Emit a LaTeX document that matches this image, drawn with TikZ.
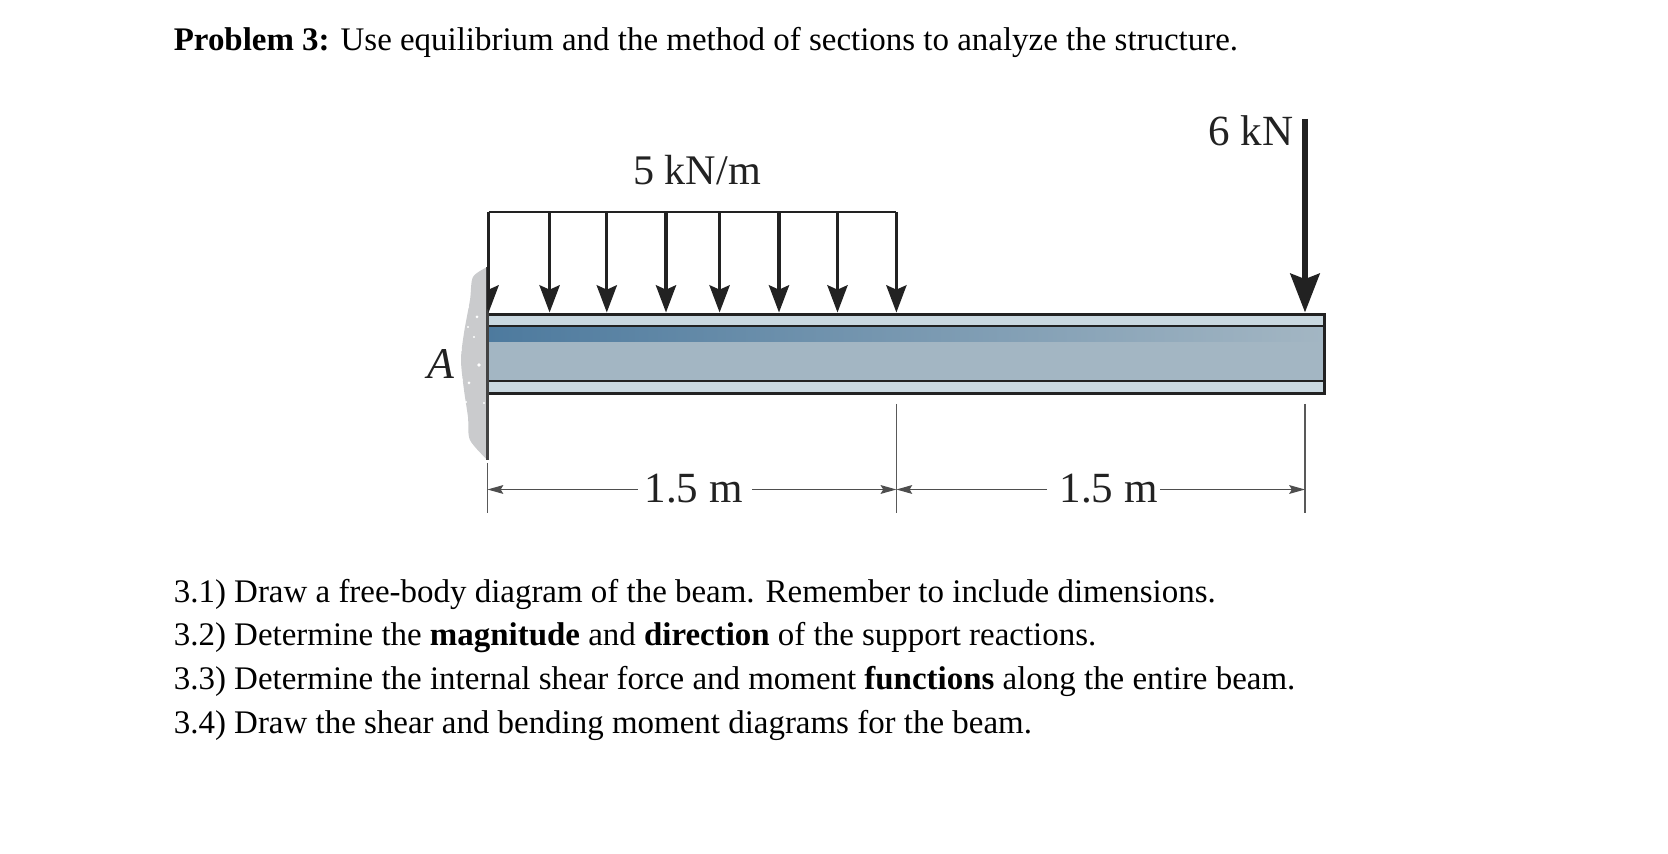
\documentclass[tikz,border=0pt]{standalone}
\usepackage{fontspec}
\setmainfont{Liberation Serif}
\usetikzlibrary{arrows.meta}
\definecolor{flange}{HTML}{C9D8E0}
\definecolor{web}{HTML}{A3B6C3}
\definecolor{webdark}{HTML}{4D7A9E}
\definecolor{ink}{HTML}{222222}
\definecolor{wallgray}{HTML}{CACBCD}
\tikzset{
  txt/.style={inner sep=0pt,anchor=base west,font=\fontsize{18.75}{22}\selectfont},
  figtxt/.style={inner sep=0pt,anchor=base,text=ink,font=\fontsize{24.5}{28}\selectfont},
  loadarrow/.style={ink,line width=1.8pt,-{Stealth[length=15.5pt,width=11.5pt,inset=2.5pt]}},
  bigarrow/.style={ink,line width=3.7pt,-{Stealth[length=22pt,width=16.5pt,inset=3pt]}},
  dimarrow/.style={ink!80,line width=0.7pt,-{Stealth[length=9pt,width=5pt,inset=1.5pt]}},
  extline/.style={ink!75,line width=0.7pt},
  beamline/.style={ink,line width=1.4pt},
  speck/.style={white}
}
\begin{document}
\begin{tikzpicture}[x=0.02cm,y=-0.02cm]
        \useasboundingbox (0,0) rectangle (1668,854);
        \fill[white] (0,0) rectangle (1668,854);
        \node[txt](title) at (173.5,51) {\textbf{Problem 3:} Use equilibrium and the method of sections to analyze the structure.};
        \node[txt](q1) at (173.5,602.5) {3.1) Draw a free-body diagram of the beam. Remember to include dimensions.};
        \node[txt](q2) at (173.5,645.5) {3.2) Determine the \textbf{magnitude} and \textbf{direction} of the support reactions.};
        \node[txt](q3) at (173.5,690) {3.3) Determine the internal shear force and moment \textbf{functions} along the entire beam.};
        \node[txt](q4) at (173.5,733.5) {3.4) Draw the shear and bending moment diagrams for the beam.};

        \fill[wallgray] plot[smooth] coordinates {(487.5,267) (473,277) (470,300) (464,333) (461,360) (464,390) (468,417) (470,440) (487.5,460)} -- cycle;
        \fill[speck] (468,307) circle (1.2);
        \fill[speck] (477,317) circle (1.5);
        \fill[speck] (468,327) circle (1.2);
        \fill[speck] (474,337) circle (1.2);
        \fill[speck] (461,350) circle (1.2);
        \fill[speck] (479,365) circle (1.8);
        \fill[speck] (469,383) circle (1.5);
        \fill[speck] (462,380) circle (1.2);
        \fill[speck] (484,403) circle (1.2);
        \fill[speck] (466,402) circle (1.2);

        \fill[flange] (487.5,314.5) rectangle (1324.5,393.5);
        \fill[web] (487.5,326) rectangle (1324.5,381);
        \shade[left color=webdark,right color=web] (487.5,326) rectangle (1324.5,342);
        \draw[beamline] (487.5,314.5) rectangle (1324.5,393.5);
        \draw[beamline] (487.5,326) -- (1324.5,326);
        \draw[beamline] (487.5,381) -- (1324.5,381);
        \draw[ink!85,line width=1.4pt] (487.5,267) -- (487.5,460);

        \coordinate (t0) at (488.6,212);
        \coordinate (t1) at (549.6,212);
        \coordinate (t2) at (606.8,212);
        \coordinate (t3) at (666,212);
        \coordinate (t4) at (719.6,212);
        \coordinate (t5) at (779,212);
        \coordinate (t6) at (837.5,212);
        \coordinate (t7) at (896.4,212);
        \coordinate (b0) at (488.6,312.5);
        \coordinate (b1) at (549.6,312.5);
        \coordinate (b2) at (606.8,312.5);
        \coordinate (b3) at (666,312.5);
        \coordinate (b4) at (719.6,312.5);
        \coordinate (b5) at (779,312.5);
        \coordinate (b6) at (837.5,312.5);
        \coordinate (b7) at (896.4,312.5);
        \draw[ink,line width=1pt] (t0)--(t7);
        \begin{scope}
        \clip (487,200) rectangle (510,320);
        \draw[loadarrow] (t0)--(b0);
        \end{scope}
        \draw[loadarrow] (t1)--(b1);
        \draw[loadarrow] (t2)--(b2);
        \draw[loadarrow] (t3)--(b3);
        \draw[loadarrow] (t4)--(b4);
        \draw[loadarrow] (t5)--(b5);
        \draw[loadarrow] (t6)--(b6);
        \draw[loadarrow] (t7)--(b7);

        \coordinate (ft) at (1305,119);
        \coordinate (fb) at (1305,312.5);
        \draw[bigarrow] (ft)--(fb);

        \node[figtxt,font=\fontsize{24}{28}\selectfont](w) at (697,185) {5 kN/m};
        \node[figtxt](p) at (1251,146) {6 kN};
        \node[figtxt,font=\fontsize{25}{28}\selectfont\itshape](A) at (441,379) {A};

        \coordinate (e0) at (487.5,463);
        \coordinate (e1) at (896.4,404);
        \coordinate (e2) at (1305,404);
        \coordinate (f0) at (487.5,513);
        \coordinate (f1) at (896.4,513);
        \coordinate (f2) at (1305,513);
        \draw[extline] (e0)--(f0);
        \draw[extline] (e1)--(f1);
        \draw[extline] (e2)--(f2);
        \coordinate (d0) at (487.5,489.5);
        \coordinate (d1) at (896.4,489.5);
        \coordinate (d2) at (1305,489.5);
        \coordinate (g1) at (637.5,489.5);
        \coordinate (g2) at (752,489.5);
        \coordinate (g3) at (1047,489.5);
        \coordinate (g4) at (1160,489.5);
        \node[figtxt](s1) at (693.5,503) {1.5 m};
        \node[figtxt](s2) at (1108.5,503) {1.5 m};
        \draw[dimarrow] (g1)--(d0);
        \draw[dimarrow] (g2)--(d1);
        \draw[dimarrow] (g3)--(d1);
        \draw[dimarrow] (g4)--(d2);
        \end{tikzpicture}
\end{document}
